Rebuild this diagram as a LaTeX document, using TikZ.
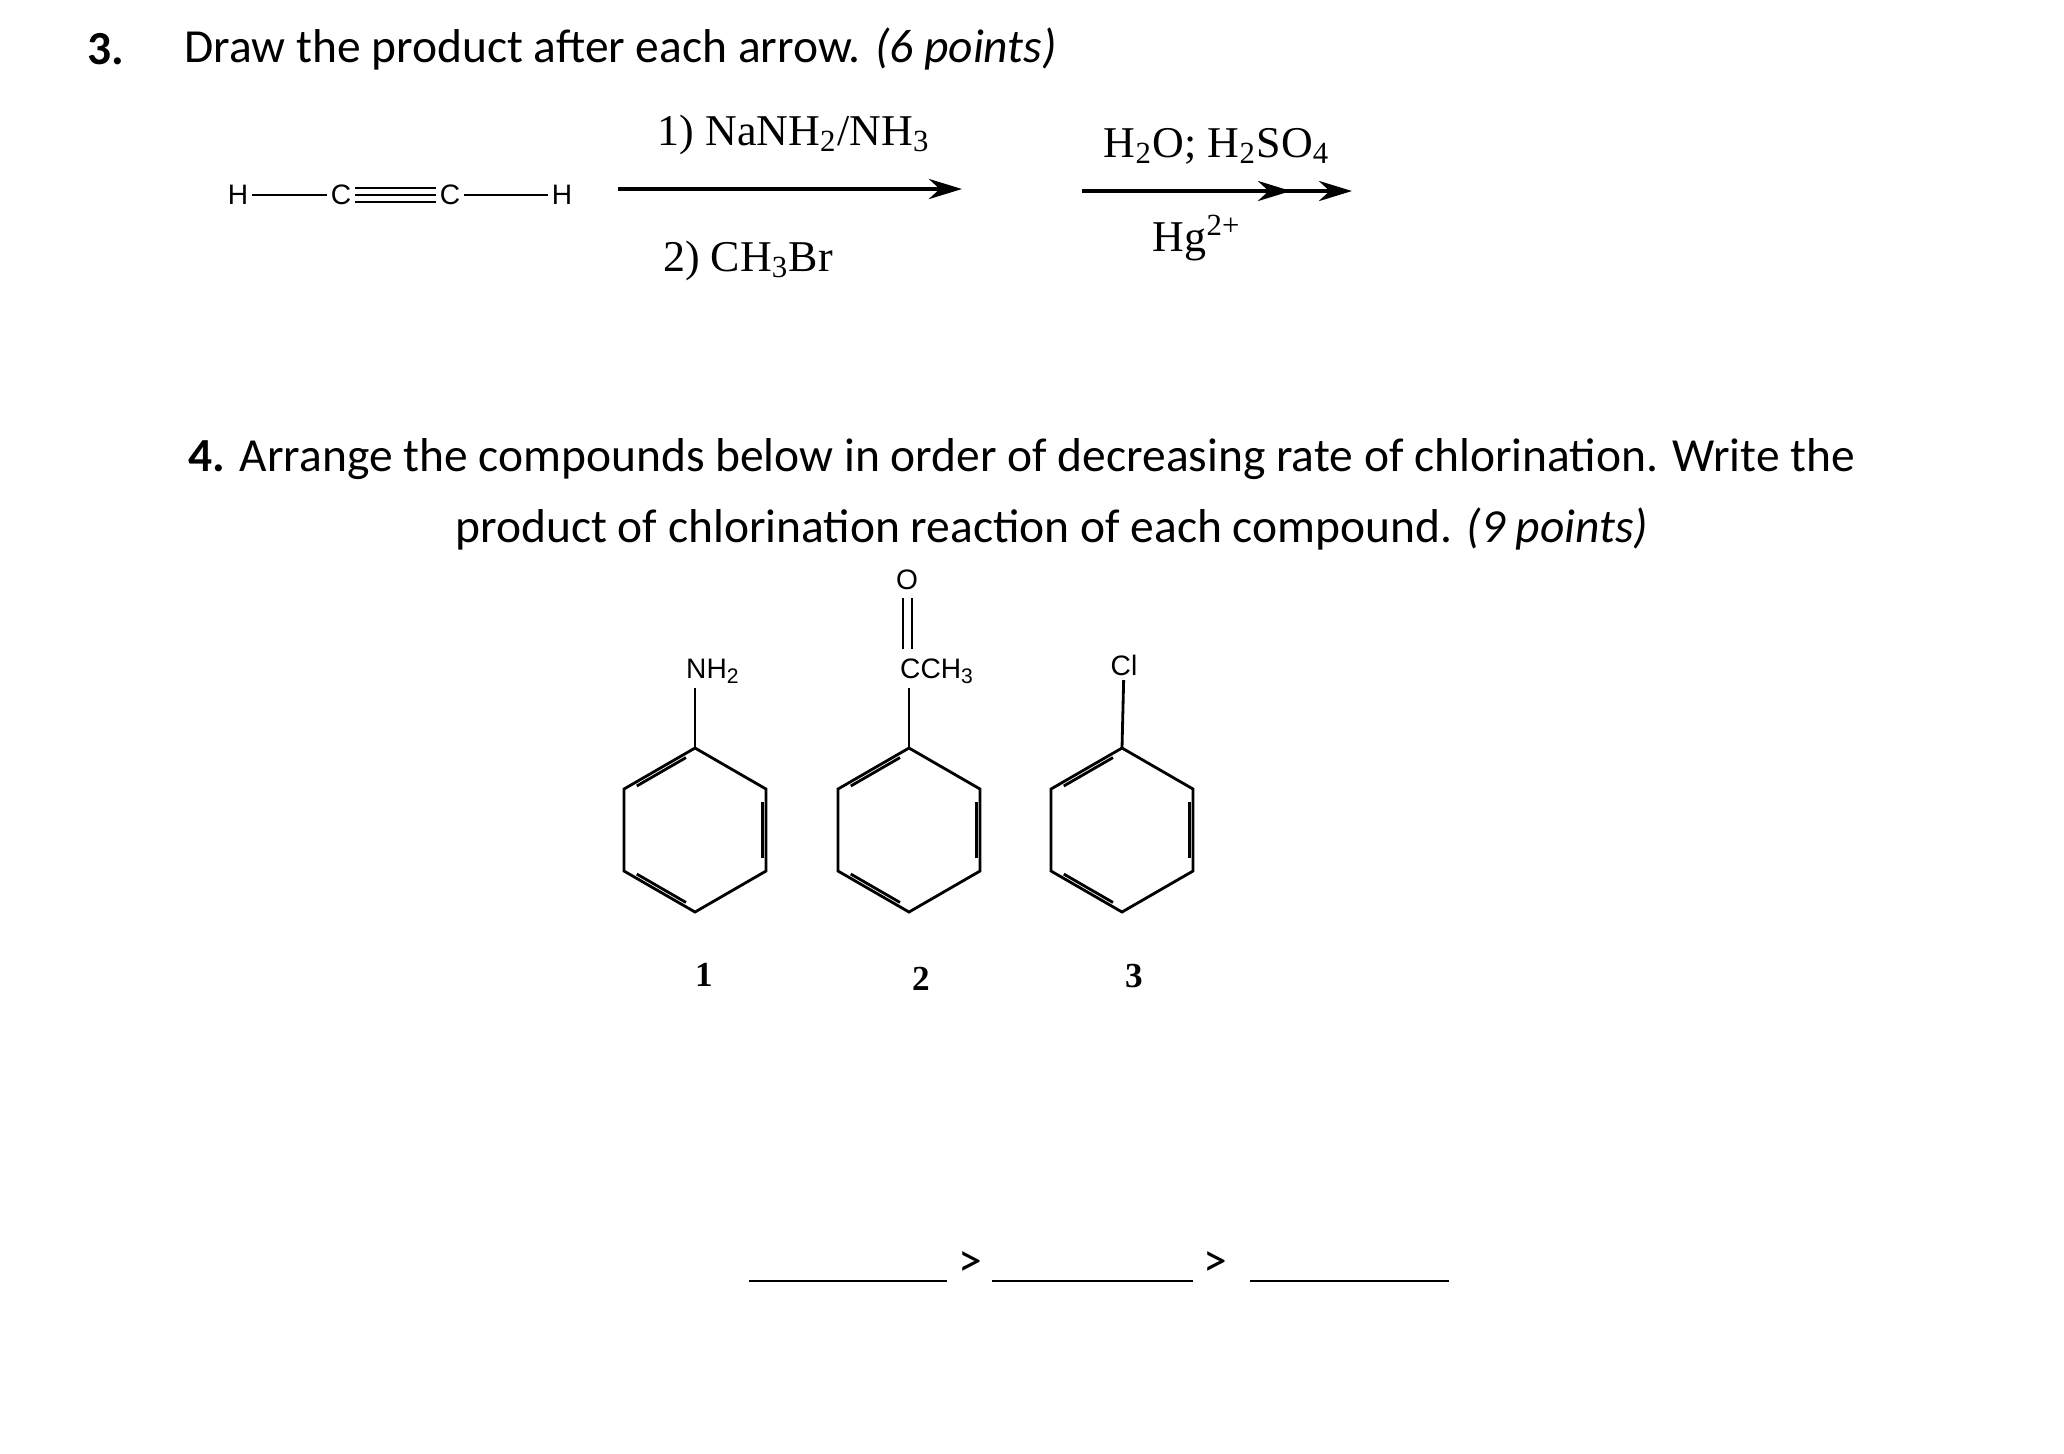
\documentclass[tikz,border=0pt]{standalone}
\usepackage{fontspec}
\setmainfont{Carlito}
\newfontfamily\chemsans{Liberation Sans}
\newfontfamily\chemserif{Liberation Serif}
\usetikzlibrary{arrows.meta,calc}
\tikzset{
  heading/.style={font=\fontsize{13.5}{16}\selectfont, anchor=west},
  atom/.style={font=\chemsans\fontsize{8}{9}\selectfont, inner sep=1pt},
  reagent/.style={font=\chemserif\fontsize{12.5}{14}\selectfont, inner sep=1pt},
  cmpd/.style={font=\chemserif\bfseries\fontsize{10}{12}\selectfont},
  bond/.style={line width=0.8pt},
  rxn/.style={line width=1.3pt},
  blank/.style={line width=0.6pt}
}
\begin{document}
\begin{tikzpicture}[x=0.01cm,y=-0.01cm]
\useasboundingbox (0,0) rectangle (2064,1453);

% question 3
\node[heading] (q3num) at (75,49) {\textbf{3.}};
\node[heading] (q3) at (172,49) {Draw the product after each arrow. \textit{(6 points)}};

\node[atom] (h1) at (238,195) {H};
\node[atom] (c1) at (341,195) {C};
\node[atom] (c2) at (450,195) {C};
\node[atom] (h2) at (562,195) {H};
\draw[bond] (h1) -- (c1);
\draw[bond] (c2) -- (h2);
\draw[bond] ($(c1.east)+(0,-7)$) -- ($(c2.west)+(0,-7)$);
\draw[bond] (c1) -- (c2);
\draw[bond] ($(c1.east)+(0,7)$) -- ($(c2.west)+(0,7)$);

\coordinate (a1s) at (618,189);
\coordinate (a1e) at (962,189);
\draw[rxn,-{Stealth[length=3.3mm,width=2mm]}] (a1s) -- (a1e);
\node[reagent] (r1) at (794,135) {1) NaNH\textsubscript{2}/NH\textsubscript{3}};
\node[reagent] (r2) at (748,261) {2) CH\textsubscript{3}Br};

\coordinate (a2s) at (1082,191);
\coordinate (a2e) at (1352,191);
\draw[rxn,-{Stealth[length=3.3mm,width=2mm,sep=2.8mm] Stealth[length=3.3mm,width=2mm]}] (a2s) -- (a2e);
\node[reagent] (r3) at (1217,146) {H\textsubscript{2}O; H\textsubscript{2}SO\textsubscript{4}};
\node[reagent] (r4) at (1197,238) {Hg\textsuperscript{2+}};

% question 4
\node[heading,anchor=center] (q4a) at (1022,459) {\textbf{4.} Arrange the compounds below in order of decreasing rate of chlorination. Write the};
\node[heading,anchor=center] (q4b) at (1052,529) {product of chlorination reaction of each compound. \textit{(9 points)}};

% rings
\foreach \n/\cx in {1/695, 2/909, 3/1122} {
  \coordinate (r\n t) at (\cx,748);
  \coordinate (r\n ur) at (\cx+71,789);
  \coordinate (r\n lr) at (\cx+71,871);
  \coordinate (r\n b) at (\cx,912);
  \coordinate (r\n ll) at (\cx-71,871);
  \coordinate (r\n ul) at (\cx-71,789);
  \coordinate (r\n c) at (\cx,830);
  \draw[bond] (r\n t) -- (r\n ur) -- (r\n lr) -- (r\n b) -- (r\n ll) -- (r\n ul) -- cycle;
  \draw[bond] ($(r\n c)!0.82!(r\n t)!0.14!(r\n c)!0.82!(r\n ul)$) -- ($(r\n c)!0.82!(r\n ul)!0.14!(r\n c)!0.82!(r\n t)$);
  \draw[bond] ($(r\n c)!0.82!(r\n ur)!0.14!(r\n c)!0.82!(r\n lr)$) -- ($(r\n c)!0.82!(r\n lr)!0.14!(r\n c)!0.82!(r\n ur)$);
  \draw[bond] ($(r\n c)!0.82!(r\n ll)!0.14!(r\n c)!0.82!(r\n b)$) -- ($(r\n c)!0.82!(r\n b)!0.14!(r\n c)!0.82!(r\n ll)$);
}

\node[atom,anchor=south west] (nh2) at (682,688) {NH\textsubscript{2}};
\draw[bond] (r1t) -- (695,688);

\node[atom,anchor=south west] (cch3) at (896,688) {CCH\textsubscript{3}};
\draw[bond] (r2t) -- (909,688);
\node[atom] (o) at (907,580) {O};
\draw[bond] (903,598) -- (903,649);
\draw[bond] (912,598) -- (912,649);

\node[atom,anchor=south] (cl) at (1124,680) {Cl};
\draw[bond] (r3t) -- (cl);

\node[cmpd] (n1) at (704,975) {1};
\node[cmpd] (n2) at (921,979) {2};
\node[cmpd] (n3) at (1134,976) {3};

% answer blanks
\coordinate (b1s) at (749,1281); \coordinate (b1e) at (947,1281);
\coordinate (b2s) at (992,1281); \coordinate (b2e) at (1193,1281);
\coordinate (b3s) at (1250,1281); \coordinate (b3e) at (1449,1281);
\draw[blank] (b1s) -- (b1e);
\draw[blank] (b2s) -- (b2e);
\draw[blank] (b3s) -- (b3e);
\node[heading,anchor=center] (gt1) at (970,1264) {>};
\node[heading,anchor=center] (gt2) at (1215,1264) {>};
\end{tikzpicture}
\end{document}
